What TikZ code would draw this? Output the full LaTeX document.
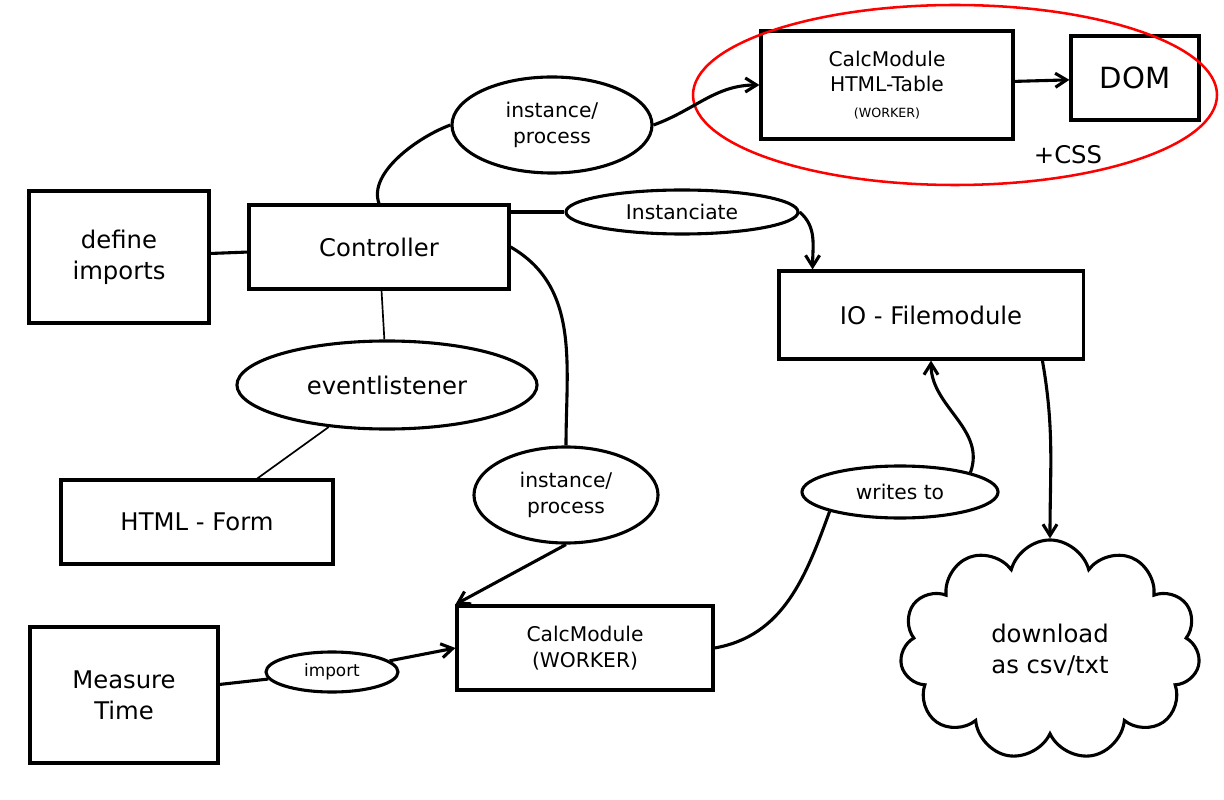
\documentclass[tikz,border=0pt]{standalone}
\usepackage{fontspec}
\setmainfont{DejaVu Sans}
\usetikzlibrary{shapes.geometric,shapes.symbols,arrows.meta}
\begin{document}
\begin{tikzpicture}[x=0.025cm,y=-0.025cm,
  box/.style={draw,line width=2.2pt,minimum width=#1,align=center,font=\LARGE},
  oval/.style={draw,ellipse,line width=2.2pt,align=center,inner sep=1pt,font=\Large},
  con/.style={line width=2.2pt},
  arr/.style={line width=2.2pt,-{Straight Barb[length=8pt,width=10pt]}},
  thin/.style={line width=1.2pt}]
\useasboundingbox (0,0) rectangle (1224,800);
\node[box=4.5cm,minimum height=3.3cm] (def) at (119,257) {define\\imports};
\node[box=6.5cm,minimum height=2.1cm] (ctrl) at (379,247) {Controller};
\node[oval,minimum width=5cm,minimum height=2.4cm] (ip1) at (552,125) {instance/\\process};
\node[box=6.3cm,minimum height=2.7cm,font=\Large] (cht) at (887,85) {CalcModule\\HTML-Table\\{\small (WORKER)}};
\node[box=3.2cm,minimum height=2.1cm,font=\huge] (dom) at (1135,78) {DOM};
\node[font=\LARGE] (css) at (1068,155) {+CSS};
\draw[red,line width=1.8pt] (955,95) ellipse [x radius=262, y radius=90];
\node[oval,minimum width=5.8cm,minimum height=1.1cm] (inst) at (682,212) {Instanciate};
\node[box=7.6cm,minimum height=2.2cm] (io) at (931,315) {IO - Filemodule};
\node[oval,minimum width=7.5cm,minimum height=2.2cm,font=\LARGE] (ev) at (387,385) {eventlistener};
\node[box=6.8cm,minimum height=2.1cm] (form) at (197,522) {HTML - Form};
\node[oval,minimum width=4.6cm,minimum height=2.4cm] (ip2) at (566,495) {instance/\\process};
\node[oval,minimum width=4.9cm,minimum height=1.3cm] (wr) at (900,492) {writes to};
\node[box=6.4cm,minimum height=2.1cm,font=\Large] (cw) at (585,648) {CalcModule\\(WORKER)};
\node[box=4.7cm,minimum height=3.4cm] (mt) at (124,695) {Measure\\Time};
\node[oval,minimum width=3.3cm,minimum height=1cm,font=\large] (imp) at (332,672) {import};
\node[draw,cloud,cloud puffs=11,aspect=1.3,line width=2.2pt,minimum width=7.5cm,minimum height=5.5cm,align=center,font=\LARGE] (dl) at (1050,650) {download\\as csv/txt};
\draw[con] (def) -- (ctrl);
\draw[con] (ctrl.north) to[out=110,in=200,looseness=0.8] (ip1.west);
\draw[arr] (ip1.east) to[out=20,in=180] (cht.west);
\draw[arr] (cht) -- (dom);
\draw[con] (ctrl.east|-inst) -- (inst.west);
\draw[arr] (inst.east) to[out=-40,in=90] ([xshift=25]io.north west);
\draw[thin] (ctrl) -- (ev);
\draw[thin] (ev) -- (form);
\draw[con] (ctrl.east) to[out=-30,in=90] (ip2.north);
\draw[arr] (ip2.south) -- (cw.north west);
\draw[con] (mt) -- (imp);
\draw[arr] (imp) -- (cw.west);
\draw[con] (cw.east) to[out=10,in=250] (wr.south west);
\draw[arr] (wr.north east) to[out=70,in=-90] (io.south);
\draw[arr] ([xshift=-30]io.south east) to[out=-80,in=90] (dl.north);
\end{tikzpicture}
\end{document}
